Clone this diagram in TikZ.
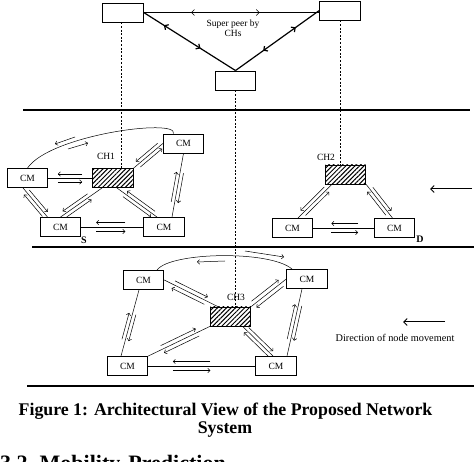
\documentclass[tikz,border=0pt]{standalone}
\usepackage{fontspec}
\setmainfont{Liberation Serif}
\usetikzlibrary{arrows.meta,calc,patterns.meta,decorations.markings}

\newcommand{\dblR}[5]{%
  \draw[smallarr] ($(#1)!#3!(#2)!#5!-90:(#2)$) -- ($(#1)!#4!(#2)!#5!-90:(#2)$);
  \draw[smallarr] ($(#1)!#4!(#2)!#5!90:(#2)$) -- ($(#1)!#3!(#2)!#5!90:(#2)$);}
\newcommand{\dblL}[5]{%
  \draw[smallarr] ($(#1)!#3!(#2)!#5!90:(#2)$) -- ($(#1)!#4!(#2)!#5!90:(#2)$);
  \draw[smallarr] ($(#1)!#4!(#2)!#5!-90:(#2)$) -- ($(#1)!#3!(#2)!#5!-90:(#2)$);}

\tikzset{
  box/.style={draw, line width=0.9pt, minimum width=40.5pt, minimum height=19pt, inner sep=0pt, font=\fontsize{9.5}{10}\selectfont},
  chbox/.style={box, pattern={Lines[angle=45,distance=3.2pt,line width=1pt]}},
  ln/.style={line width=0.5pt},
  thickln/.style={line width=1.2pt},
  sepln/.style={line width=1.3pt},
  dsh/.style={line width=0.6pt, dash pattern=on 2pt off 1.6pt},
  smallarr/.style={line width=0.5pt, -{Straight Barb[length=2.2pt,width=4.5pt]}},
  bigarr/.style={line width=1pt, -{Straight Barb[length=3.5pt,width=7pt]}},
  lbl/.style={inner sep=0pt, font=\fontsize{9.5}{10}\selectfont},
  bl/.style={inner sep=0pt, font=\fontsize{10}{10}\selectfont\bfseries},
}

\begin{document}
\begin{tikzpicture}[x=1pt,y=-1pt]
\useasboundingbox (0,0) rectangle (474,462);
\clip (0,0) rectangle (474,462);

% ---------- top: super peers ----------
\node[box] (tl) at (123,12.5) {};
\node[box] (tr) at (340,10.5) {};
\node[box] (mid) at (235.5,80.5) {};
\node[lbl, align=center] (sp) at (233,28.5) {Super peer by\\CHs};

\draw[ln, postaction={decorate}, decoration={markings,
   mark=at position 0.27 with {\arrowreversed{Straight Barb[length=3pt,width=6pt]}},
   mark=at position 0.66 with {\arrow{Straight Barb[length=3pt,width=6pt]}}}]
   (tl.east) -- (tl.east -| tr.west);
\draw[thickln, postaction={decorate}, decoration={markings,
   mark=at position 0.22 with {\arrowreversed{Straight Barb[length=3pt,width=6pt]}},
   mark=at position 0.62 with {\arrow{Straight Barb[length=3pt,width=6pt]}}}]
   (tl.east) -- (mid.north);
\draw[thickln, postaction={decorate}, decoration={markings,
   mark=at position 0.33 with {\arrowreversed{Straight Barb[length=3pt,width=6pt]}},
   mark=at position 0.72 with {\arrow{Straight Barb[length=3pt,width=6pt]}}}]
   (mid.north) -- (tr.west);

% ---------- separators ----------
\draw[sepln] (23,110) -- (470,110);
\draw[sepln] (32,247) -- (474,247);
\draw[sepln] (27,386) -- (474,386);

% ---------- section 2 left ----------
\node[box] (cmA) at (27.5,178) {CM};
\node[chbox] (ch1) at (113,178) {};
\node[box] (cmB) at (183.5,143.5) {CM};
\node[box] (cmC) at (60.5,227) {CM};
\node[box] (cmD) at (164,227) {CM};
\node[lbl] (l1) at (106,156) {CH1};
\node[bl] (s) at (84,240) {S};

\coordinate (a3) at ([xshift=-4.5pt]cmA.south);
\coordinate (b3) at ([xshift=-13pt]cmC.north);
\coordinate (a4) at ([xshift=-11pt]ch1.south);
\coordinate (b4) at (cmC.north);
\coordinate (a5) at ([xshift=4pt]ch1.south);
\coordinate (b5) at ([xshift=-7pt]cmD.north);
\coordinate (a6) at (cmB.south);
\coordinate (b6) at ([xshift=8pt]cmD.north);

\draw[ln] (cmA.east) -- (ch1.west);
\draw[ln] (ch1.north east) -- (cmB.west);
\draw[ln] (a3) -- (b3);
\draw[ln] (a4) -- (b4);
\draw[ln] (a5) -- (b5);
\draw[ln] (a6) -- (b6);
\draw[ln] (cmC.east) -- (cmD.west);
\draw[ln] (cmA.north) .. controls (50,135) and (178,118) .. ([xshift=-10pt]cmB.north);

\dblR{cmA.east}{ch1.west}{0.22}{0.77}{4pt}
\dblR{ch1.north east}{cmB.west}{0.15}{0.9}{3.5pt}
\dblL{a3}{b3}{0.15}{0.9}{3.5pt}
\dblR{a4}{b4}{0.3}{0.9}{3.5pt}
\dblR{a5}{b5}{0.2}{0.9}{3.5pt}
\dblL{a6}{b6}{0.3}{0.77}{3.5pt}
\dblR{cmC.east}{cmD.west}{0.24}{0.71}{4.5pt}
\draw[smallarr] (75,137) -- (55,144);
\draw[smallarr] (68,149) -- (88,143);

% ---------- section 2 right ----------
\node[chbox] (ch2) at (345.5,174.5) {};
\node[box] (cmE) at (292.5,228) {CM};
\node[box] (cmF) at (394.5,228) {CM};
\node[lbl] (l2) at (326,157) {CH2};
\node[bl] (d) at (420,239) {D};

\coordinate (a8) at ([xshift=7pt]ch2.south west);
\coordinate (b8) at ([xshift=5.5pt]cmE.north);
\coordinate (a9) at (ch2.south east);
\coordinate (b9) at ([xshift=-2pt]cmF.north);
\draw[ln] (a8) -- (b8);
\draw[ln] (a9) -- (b9);
\draw[ln] (cmE.east) -- (cmF.west);
\dblR{a8}{b8}{0.15}{0.85}{3.5pt}
\dblL{a9}{b9}{0.15}{0.85}{3.5pt}
\dblR{cmE.east}{cmF.west}{0.3}{0.74}{4.5pt}

\coordinate (m1s) at (472,189);
\coordinate (m1e) at (430,189);
\draw[bigarr] (m1s) -- (m1e);

% ---------- section 3 ----------
\node[box] (cmG) at (143.5,280) {CM};
\node[box] (cmH) at (307,279) {CM};
\node[chbox] (ch3) at (230.5,316.5) {};
\node[box] (cmI) at (127.5,366) {CM};
\node[box] (cmJ) at (276,366) {CM};
\node[lbl] (l3) at (236,297) {CH3};

\coordinate (a10) at (cmG.east);
\coordinate (b10) at ([xshift=8pt]ch3.north west);
\coordinate (a11) at (cmH.west);
\coordinate (b11) at (ch3.north east);
\coordinate (a12) at ([xshift=-4.5pt]cmG.south);
\coordinate (b12) at ([xshift=-6.5pt]cmI.north);
\coordinate (a13) at ([xshift=-5pt]cmH.south);
\coordinate (b13) at ([xshift=11pt]cmJ.north);
\coordinate (a14) at (ch3.south west);
\coordinate (b14) at (cmI.north east);
\coordinate (a15) at ([xshift=-8.5pt]ch3.south east);
\coordinate (b15) at ([xshift=-3pt]cmJ.north);

\draw[ln] (a10) -- (b10);
\draw[ln] (a11) -- (b11);
\draw[ln] (a12) -- (b12);
\draw[ln] (a13) -- (b13);
\draw[ln] (a14) -- (b14);
\draw[ln] (a15) -- (b15);
\draw[ln] (cmI.east) -- (cmJ.west);
\draw[ln] ([xshift=13.5pt]cmG.north) .. controls (170,252) and (270,250) .. ([xshift=-15pt]cmH.north);

\dblL{a10}{b10}{0.17}{0.78}{4pt}
\dblL{a11}{b11}{0.15}{0.92}{4pt}
\dblL{a12}{b12}{0.36}{0.76}{3.5pt}
\dblL{a13}{b13}{0.24}{0.76}{3.5pt}
\dblL{a14}{b14}{0.2}{0.77}{4pt}
\dblL{a15}{b15}{0.12}{0.92}{3.5pt}
\dblR{cmI.east}{cmJ.west}{0.23}{0.58}{4.5pt}
\draw[smallarr] (225,261) -- (197,262);
\draw[smallarr] (245,251) -- (284,257);

\coordinate (m2s) at (445,322);
\coordinate (m2e) at (403,322);
\draw[bigarr] (m2s) -- (m2e);
\node[inner sep=0pt, font=\fontsize{10.3}{11}\selectfont] (dir) at (395,338) {Direction of node movement};

% ---------- dashed verticals ----------
\draw[dsh] ([xshift=-2pt]tl.south) -- ([xshift=-2pt]tl.south |- ch1.north);
\draw[dsh] (mid.south) -- (mid.south |- ch3.north);
\draw[dsh] (tr.south) -- (tr.south |- ch2.north);

% ---------- caption ----------
\node[anchor=base, inner sep=0pt, font=\fontsize{17.8}{18}\selectfont\bfseries] (cap1) at (225.5,415) {Figure 1: Architectural View of the Proposed Network};
\node[anchor=base, inner sep=0pt, font=\fontsize{17.8}{18}\selectfont\bfseries] (cap2) at (225,433.5) {System};
\node[anchor=base west, inner sep=0pt, font=\fontsize{22}{22}\selectfont\bfseries] (head) at (0,470) {3.2\hspace{12pt}Mobility\hspace{8pt}Prediction};
\end{tikzpicture}
\end{document}
